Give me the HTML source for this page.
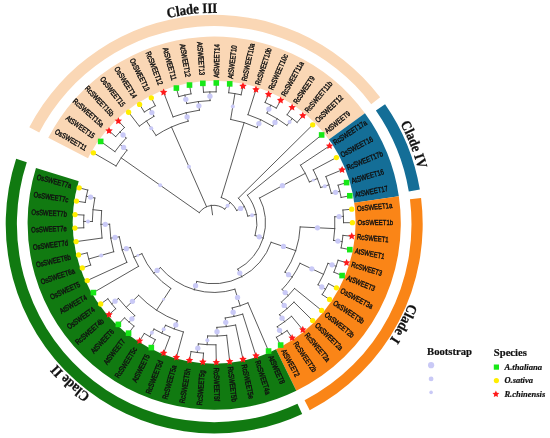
<!DOCTYPE html>
<html><head><meta charset="utf-8"><title>Phylogenetic tree</title>
<style>html,body{margin:0;padding:0;background:#fff}svg{display:block}</style></head>
<body>
<svg width="550" height="438" viewBox="0 0 550 438">
<rect width="550" height="438" fill="#fff"/>
<path d="M48.27 137.84A186.6 186.6 0 0 1 364.95 113.23L294.99 164.26A100 100 0 0 0 125.28 177.46Z" fill="#fad7b5"/>
<path d="M364.95 113.23A186.6 186.6 0 0 1 398.83 196.16L313.14 208.71A100 100 0 0 0 294.99 164.26Z" fill="#146e97"/>
<path d="M398.83 196.16A186.6 186.6 0 0 1 296.33 390.76L258.21 312.99A100 100 0 0 0 313.14 208.71Z" fill="#fa8517"/>
<path d="M296.33 390.76A186.6 186.6 0 0 1 35.97 167.95L118.68 193.59A100 100 0 0 0 258.21 312.99Z" fill="#117a11"/>
<circle cx="214.15" cy="222.2" r="141.5" fill="#fff"/>
<path d="M29.3 127.37A208.5 209.33 0 0 1 380.14 97.36L371.23 104.17A197.3 198.09 0 0 0 39.23 132.56Z" fill="#fad7b5"/>
<path d="M385.07 104.15A208.5 209.33 0 0 1 419.85 189.61L408.8 191.46A197.3 198.09 0 0 0 375.9 110.59Z" fill="#146e97"/>
<path d="M421.06 197.92A208.5 209.33 0 0 1 309.7 410.18L304.57 400.19A197.3 198.09 0 0 0 409.95 199.33Z" fill="#fa8517"/>
<path d="M302.19 413.88A208.5 209.33 0 0 1 16.16 158.64L26.79 162.16A197.3 198.09 0 0 0 297.46 403.69Z" fill="#117a11"/>
<path d="M115.69 136.66A129.95 130.86 0 0 1 124.42 127.52M115.69 136.66L109.17 130.93M124.42 127.52L118.49 121.18M114.92 151.67A121.3 122.15 0 0 1 126.18 138.02M114.92 151.67L100.84 141.54M126.18 138.02L119.95 131.98M116.04 165.98A112.65 113.44 0 0 1 126.96 150.21M116.04 165.98L93.57 152.91M126.96 150.21L120.3 144.64M144.31 111.99A129.95 130.86 0 0 1 155.28 105.76M144.31 111.99L139.7 104.63M155.28 105.76L151.4 97.98M139.29 126.15A121.3 122.15 0 0 1 153.97 116.33M139.29 126.15L128.69 112.38M153.97 116.33L149.72 108.74M178.75 96.63A129.95 130.86 0 0 1 191.03 93.83M178.75 96.63L176.43 88.24M191.03 93.83L189.53 85.25M203.53 92.23A129.95 130.86 0 0 1 216.12 91.86M203.53 92.23L202.86 83.55M216.12 91.86L216.29 83.16M186.77 103.58A121.3 122.15 0 0 1 210.07 100.6M186.77 103.58L184.86 95.08M210.07 100.6L209.82 91.9M173.03 116.88A112.65 113.44 0 0 1 199.44 110.16M173.03 116.88L163.68 92.5M199.44 110.16L198.35 101.52M156.03 135.48A104 104.73 0 0 1 188.15 121.16M156.03 135.48L146.45 120.97M188.15 121.16L186.03 112.71M228.69 92.73A129.95 130.86 0 0 1 241.11 94.81M228.69 92.73L229.69 84.07M241.11 94.81L242.94 86.29M265.07 102.54A129.95 130.86 0 0 1 276.38 108.12M265.07 102.54L268.5 94.54M276.38 108.12L280.56 100.5M287.1 114.78A129.95 130.86 0 0 1 297.13 122.46M287.1 114.78L291.99 107.6M297.13 122.46L302.69 115.78M266.99 113.02A121.3 122.15 0 0 1 286.98 125.43M266.99 113.02L270.79 105.2M286.98 125.43L292.21 118.5M247.99 114.68A112.65 113.44 0 0 1 272.74 126.15M247.99 114.68L255.92 89.79M272.74 126.15L277.28 118.74M230.67 119.39A104 104.73 0 0 1 257.09 127.57M230.67 119.39L234.92 93.61M257.09 127.57L260.71 119.66M338.09 185.17A129.95 130.86 0 0 1 341.11 197.48M338.09 185.17L346.38 182.67M341.11 197.48L349.6 195.8M325.89 176.5A121.3 122.15 0 0 1 331.35 193.38M325.89 176.5L341.91 169.91M331.35 193.38L339.75 191.29M313.27 169.83A112.65 113.44 0 0 1 320.7 187.54M313.27 169.83L336.23 157.65M320.7 187.54L328.93 184.84M300.49 165.15A104 104.73 0 0 1 309.39 181.92M300.49 165.15L329.4 146M309.39 181.92L317.36 178.53M342.94 210.03A129.95 130.86 0 0 1 343.55 222.7M342.94 210.03L351.55 209.19M343.55 222.7L352.2 222.7M342.94 235.37A129.95 130.86 0 0 1 341.11 247.92M342.94 235.37L351.55 236.21M341.11 247.92L349.6 249.6M334.76 216.78A121.3 122.15 0 0 1 333.62 240.4M334.76 216.78L343.4 216.36M333.62 240.4L342.18 241.67M338.09 260.23A129.95 130.86 0 0 1 333.9 272.19M338.09 260.23L346.38 262.73M333.9 272.19L341.91 275.49M328.57 283.69A129.95 130.86 0 0 1 322.17 294.61M328.57 283.69L336.23 287.75M322.17 294.61L329.4 299.4M327.98 263.36A121.3 122.15 0 0 1 318.06 284.8M327.98 263.36L336.14 266.26M318.06 284.8L325.5 289.23M287.1 330.62A129.95 130.86 0 0 1 276.38 337.28M287.1 330.62L291.99 337.8M276.38 337.28L280.56 344.9M291.57 316.27A121.3 122.15 0 0 1 277.28 326.66M291.57 316.27L302.69 329.62M277.28 326.66L281.82 334.08M294.02 302.13A112.65 113.44 0 0 1 279.55 314.67M294.02 302.13L312.55 320.43M279.55 314.67L284.61 321.73M294.55 288.45A104 104.73 0 0 1 281.41 302.1M294.55 288.45L321.48 310.32M281.41 302.1L287.05 308.71M300.02 263.28A95.35 96.02 0 0 1 282.08 289.52M300.02 263.28L323.54 274.32M282.08 289.52L288.29 295.58M300.2 226.93A86.7 87.31 0 0 1 285.01 272.21M300.2 226.93L334.76 228.62M285.01 272.21L292.13 277.15M203.53 353.17A129.95 130.86 0 0 1 191.03 351.57M203.53 353.17L202.86 361.85M191.03 351.57L189.53 360.15M215.95 344.83A121.3 122.15 0 0 1 198.35 343.88M215.95 344.83L216.29 362.24M198.35 343.88L197.26 352.52M226.68 335.37A112.65 113.44 0 0 1 207.6 335.98M226.68 335.37L229.69 361.33M207.6 335.98L207.13 344.68M235.62 325.05A104 104.73 0 0 1 216.88 327.38M235.62 325.05L242.94 359.11M216.88 327.38L217.15 336.08M242.71 314.13A95.35 96.02 0 0 1 225.24 318M242.71 314.13L255.92 355.61M225.24 318L226.3 326.64M247.94 302.87A86.7 87.31 0 0 1 232.21 307.97M247.94 302.87L268.5 350.86M232.21 307.97L234.07 316.48M155.28 339.64A129.95 130.86 0 0 1 144.31 333.41M155.28 339.64L151.4 347.42M144.31 333.41L139.7 340.77M169.91 336.65A121.3 122.15 0 0 1 153.97 329.07M169.91 336.65L163.68 352.9M153.97 329.07L149.72 336.66M183.39 331.98A112.65 113.44 0 0 1 165.5 325.28M183.39 331.98L176.43 357.16M165.5 325.28L161.8 333.15M133.99 326.13A129.95 130.86 0 0 1 124.42 317.88M133.99 326.13L128.69 333.02M124.42 317.88L118.49 324.22M115.69 308.74A129.95 130.86 0 0 1 107.88 298.79M115.69 308.74L109.17 314.47M107.88 298.79L100.84 303.86M134.73 315.51A121.3 122.15 0 0 1 118.45 298.46M134.73 315.51L129.11 322.12M118.45 298.46L111.67 303.86M177.32 320.85A104 104.73 0 0 1 138.65 295.3M177.32 320.85L174.3 329.01M138.65 295.3L126.18 307.38M90.65 265.06A129.95 130.86 0 0 1 87.15 252.88M90.65 265.06L82.46 267.88M87.15 252.88L78.74 254.89M83.75 227.77A129.95 130.86 0 0 1 83.87 215.09M83.75 227.77L75.1 228.11M83.87 215.09L75.23 214.58M85.21 202.48A129.95 130.86 0 0 1 87.76 190.06M85.21 202.48L76.66 201.13M87.76 190.06L79.38 187.89M92.31 221.52A121.3 122.15 0 0 1 94.81 198M92.31 221.52L83.66 221.43M94.81 198L86.33 196.24M101.99 238.05A112.65 113.44 0 0 1 101.59 210.62M101.99 238.05L76.28 241.59M101.59 210.62L92.99 209.7M113.68 251.76A104 104.73 0 0 1 109.61 224.22M113.68 251.76L88.75 259.01M109.61 224.22L100.96 224.35M126.8 262.43A95.35 96.02 0 0 1 119.29 236.85M126.8 262.43L87.42 280.46M119.29 236.85L110.73 238.13M138.52 266.35A86.7 87.31 0 0 1 130.45 247.44M138.52 266.35L93.57 292.49M130.45 247.44L122.16 249.9M170.79 288.42A78.05 78.6 0 0 1 141.88 253.7M170.79 288.42L156.56 310.27M141.88 253.7L133.93 257.13M234.89 289.22A69.4 69.89 0 0 1 160.42 267.61M234.89 289.22L240.2 305.8M160.42 267.61L153.8 273.2M271.16 242.28A60.75 61.18 0 0 1 196.78 281.48M271.16 242.28L295.74 250.64M196.78 281.48L194.38 289.85M259.55 197.97A52.1 52.46 0 0 1 237.76 269.18M259.55 197.97L305.32 173.33M237.76 269.18L241.77 276.9M247.42 195.23A43.45 43.75 0 0 1 255.12 235.58M247.42 195.23L321.48 135.08M255.12 235.58L263.39 238.15M238.44 198.16A34.8 35.04 0 0 1 247.77 216.08M238.44 198.16L312.55 124.97M247.77 216.08L256.27 214.44M221.28 197.53A26.15 26.33 0 0 1 236.76 210.47M221.28 197.53L244.15 122.59M236.76 210.47L244.42 206.43M199.24 212.63A17.5 17.62 0 0 1 224.78 209.14M199.24 212.63L121.17 157.86M206.51 206.59L171.48 126.94M224.78 209.14L230.31 202.44M211.25 205.24L212.53 214.72" fill="none" stroke="#3c3c3c" stroke-width="0.85" stroke-linecap="square"/>
<g fill="#c9c9f6">
<circle cx="123.06" cy="135" r="2.65"/>
<circle cx="123.63" cy="147.42" r="2.65"/>
<circle cx="151.85" cy="112.54" r="2.65"/>
<circle cx="185.82" cy="99.33" r="2.65"/>
<circle cx="209.95" cy="96.25" r="2.65"/>
<circle cx="198.89" cy="105.84" r="2.65"/>
<circle cx="151.24" cy="128.23" r="2"/>
<circle cx="187.09" cy="116.93" r="2.65"/>
<circle cx="268.89" cy="109.11" r="2.65"/>
<circle cx="289.59" cy="121.97" r="2"/>
<circle cx="275.01" cy="122.44" r="2.65"/>
<circle cx="232.79" cy="106.5" r="2"/>
<circle cx="258.9" cy="123.61" r="2.65"/>
<circle cx="335.55" cy="192.33" r="2.65"/>
<circle cx="324.81" cy="186.19" r="2"/>
<circle cx="313.38" cy="180.22" r="1.4"/>
<circle cx="339.08" cy="216.57" r="2.65"/>
<circle cx="337.9" cy="241.03" r="2.65"/>
<circle cx="332.06" cy="264.81" r="2.65"/>
<circle cx="321.78" cy="287.01" r="2.65"/>
<circle cx="279.55" cy="330.37" r="2.65"/>
<circle cx="282.08" cy="318.2" r="2.65"/>
<circle cx="284.23" cy="305.41" r="2.65"/>
<circle cx="311.78" cy="268.8" r="2.65"/>
<circle cx="285.18" cy="292.55" r="2.65"/>
<circle cx="317.48" cy="227.78" r="2.65"/>
<circle cx="288.57" cy="274.68" r="2.65"/>
<circle cx="197.81" cy="348.2" r="2.65"/>
<circle cx="207.36" cy="340.33" r="2"/>
<circle cx="217.01" cy="331.73" r="2.65"/>
<circle cx="225.77" cy="322.32" r="2.65"/>
<circle cx="233.14" cy="312.23" r="2.65"/>
<circle cx="151.85" cy="332.86" r="2"/>
<circle cx="163.65" cy="329.21" r="2"/>
<circle cx="131.92" cy="318.81" r="2.65"/>
<circle cx="115.06" cy="301.16" r="2.65"/>
<circle cx="175.81" cy="324.93" r="2.65"/>
<circle cx="132.41" cy="301.34" r="2.65"/>
<circle cx="87.98" cy="221.47" r="2"/>
<circle cx="90.57" cy="197.12" r="2.65"/>
<circle cx="101.22" cy="255.39" r="2"/>
<circle cx="105.29" cy="224.29" r="2.65"/>
<circle cx="115.01" cy="237.49" r="2.65"/>
<circle cx="126.3" cy="248.67" r="2.65"/>
<circle cx="163.67" cy="299.34" r="1.4"/>
<circle cx="137.9" cy="255.42" r="1.4"/>
<circle cx="237.54" cy="297.51" r="2.65"/>
<circle cx="157.11" cy="270.4" r="2.65"/>
<circle cx="283.45" cy="246.46" r="2.65"/>
<circle cx="195.58" cy="285.67" r="2.65"/>
<circle cx="282.43" cy="185.65" r="2.65"/>
<circle cx="239.77" cy="273.04" r="2.65"/>
<circle cx="259.26" cy="236.86" r="2.65"/>
<circle cx="252.02" cy="215.26" r="2"/>
<circle cx="240.59" cy="208.45" r="2.65"/>
<circle cx="160.2" cy="185.24" r="2"/>
<circle cx="189" cy="166.77" r="2"/>
<circle cx="227.54" cy="205.79" r="2"/>
</g>
<circle cx="93.4" cy="152.81" r="2.65" fill="#ffee00"/>
<rect x="97.88" y="138.62" width="5.6" height="5.6" fill="#17e817"/>
<polygon points="109.02,126.9 110.12,129.28 112.73,129.59 110.8,131.38 111.32,133.95 109.02,132.67 106.73,133.95 107.24,131.38 105.31,129.59 107.92,129.28" fill="#ff1a1a"/>
<polygon points="118.35,117.13 119.45,119.52 122.06,119.83 120.13,121.61 120.64,124.19 118.35,122.91 116.06,124.19 116.57,121.61 114.64,119.83 117.25,119.52" fill="#ff1a1a"/>
<circle cx="128.57" cy="112.23" r="2.65" fill="#ffee00"/>
<circle cx="139.59" cy="104.46" r="2.65" fill="#ffee00"/>
<circle cx="151.31" cy="97.8" r="2.65" fill="#ffee00"/>
<polygon points="163.61,88.41 164.71,90.79 167.32,91.1 165.39,92.89 165.9,95.46 163.61,94.18 161.31,95.46 161.83,92.89 159.9,91.1 162.51,90.79" fill="#ff1a1a"/>
<rect x="173.58" y="85.25" width="5.6" height="5.6" fill="#17e817"/>
<rect x="186.7" y="82.25" width="5.6" height="5.6" fill="#17e817"/>
<rect x="200.04" y="80.55" width="5.6" height="5.6" fill="#17e817"/>
<rect x="213.49" y="80.15" width="5.6" height="5.6" fill="#17e817"/>
<rect x="226.91" y="81.07" width="5.6" height="5.6" fill="#17e817"/>
<polygon points="242.98,82.2 244.08,84.58 246.69,84.89 244.76,86.67 245.28,89.25 242.98,87.97 240.69,89.25 241.2,86.67 239.28,84.89 241.88,84.58" fill="#ff1a1a"/>
<polygon points="255.98,85.7 257.08,88.09 259.69,88.4 257.76,90.18 258.27,92.76 255.98,91.47 253.69,92.76 254.2,90.18 252.27,88.4 254.88,88.09" fill="#ff1a1a"/>
<polygon points="268.58,90.46 269.68,92.84 272.28,93.15 270.36,94.94 270.87,97.51 268.58,96.23 266.28,97.51 266.8,94.94 264.87,93.15 267.48,92.84" fill="#ff1a1a"/>
<polygon points="280.66,96.42 281.76,98.81 284.37,99.12 282.44,100.9 282.95,103.48 280.66,102.19 278.36,103.48 278.88,100.9 276.95,99.12 279.56,98.81" fill="#ff1a1a"/>
<polygon points="292.11,103.53 293.21,105.92 295.82,106.23 293.89,108.01 294.4,110.59 292.11,109.31 289.81,110.59 290.33,108.01 288.4,106.23 291.01,105.92" fill="#ff1a1a"/>
<polygon points="302.82,111.73 303.92,114.11 306.53,114.42 304.6,116.21 305.11,118.78 302.82,117.5 300.53,118.78 301.04,116.21 299.11,114.42 301.72,114.11" fill="#ff1a1a"/>
<circle cx="312.69" cy="124.83" r="2.65" fill="#ffee00"/>
<rect x="318.84" y="132.15" width="5.6" height="5.6" fill="#17e817"/>
<polygon points="329.57,141.99 330.67,144.38 333.27,144.69 331.35,146.47 331.86,149.05 329.57,147.77 327.27,149.05 327.79,146.47 325.86,144.69 328.47,144.38" fill="#ff1a1a"/>
<circle cx="336.4" cy="157.56" r="2.65" fill="#ffee00"/>
<polygon points="342.09,165.94 343.19,168.32 345.8,168.63 343.87,170.42 344.38,172.99 342.09,171.71 339.8,172.99 340.31,170.42 338.38,168.63 340.99,168.32" fill="#ff1a1a"/>
<rect x="343.77" y="179.81" width="5.6" height="5.6" fill="#17e817"/>
<rect x="347" y="192.96" width="5.6" height="5.6" fill="#17e817"/>
<circle cx="351.75" cy="209.17" r="2.65" fill="#ffee00"/>
<circle cx="352.4" cy="222.7" r="2.65" fill="#ffee00"/>
<polygon points="351.75,232.33 352.85,234.72 355.46,235.03 353.53,236.81 354.04,239.39 351.75,238.1 349.46,239.39 349.97,236.81 348.04,235.03 350.65,234.72" fill="#ff1a1a"/>
<rect x="347" y="246.84" width="5.6" height="5.6" fill="#17e817"/>
<polygon points="346.57,258.89 347.67,261.27 350.28,261.58 348.35,263.37 348.86,265.94 346.57,264.66 344.28,265.94 344.79,263.37 342.86,261.58 345.47,261.27" fill="#ff1a1a"/>
<rect x="339.29" y="272.76" width="5.6" height="5.6" fill="#17e817"/>
<circle cx="336.4" cy="287.84" r="2.65" fill="#ffee00"/>
<circle cx="329.57" cy="299.51" r="2.65" fill="#ffee00"/>
<circle cx="321.64" cy="310.45" r="2.65" fill="#ffee00"/>
<circle cx="312.69" cy="320.57" r="2.65" fill="#ffee00"/>
<polygon points="302.82,325.87 303.92,328.26 306.53,328.57 304.6,330.35 305.11,332.93 302.82,331.64 300.53,332.93 301.04,330.35 299.11,328.57 301.72,328.26" fill="#ff1a1a"/>
<polygon points="292.11,334.07 293.21,336.45 295.82,336.76 293.89,338.54 294.4,341.12 292.11,339.84 289.81,341.12 290.33,338.54 288.4,336.76 291.01,336.45" fill="#ff1a1a"/>
<rect x="277.86" y="342.28" width="5.6" height="5.6" fill="#17e817"/>
<rect x="265.78" y="348.24" width="5.6" height="5.6" fill="#17e817"/>
<polygon points="255.98,351.9 257.08,354.28 259.69,354.59 257.76,356.38 258.27,358.95 255.98,357.67 253.69,358.95 254.2,356.38 252.27,354.59 254.88,354.28" fill="#ff1a1a"/>
<polygon points="242.98,355.4 244.08,357.79 246.69,358.1 244.76,359.88 245.28,362.46 242.98,361.18 240.69,362.46 241.2,359.88 239.28,358.1 241.88,357.79" fill="#ff1a1a"/>
<polygon points="229.71,357.63 230.81,360.01 233.42,360.32 231.49,362.1 232.01,364.68 229.71,363.4 227.42,364.68 227.93,362.1 226,360.32 228.61,360.01" fill="#ff1a1a"/>
<polygon points="216.29,358.55 217.39,360.93 220,361.24 218.07,363.02 218.58,365.6 216.29,364.32 214,365.6 214.51,363.02 212.58,361.24 215.19,360.93" fill="#ff1a1a"/>
<polygon points="202.84,358.15 203.94,360.54 206.55,360.85 204.62,362.63 205.14,365.21 202.84,363.92 200.55,365.21 201.06,362.63 199.13,360.85 201.74,360.54" fill="#ff1a1a"/>
<polygon points="189.5,356.45 190.6,358.83 193.21,359.14 191.28,360.93 191.79,363.5 189.5,362.22 187.21,363.5 187.72,360.93 185.79,359.14 188.4,358.83" fill="#ff1a1a"/>
<polygon points="176.38,353.45 177.48,355.84 180.09,356.15 178.16,357.93 178.67,360.51 176.38,359.22 174.09,360.51 174.6,357.93 172.67,356.15 175.28,355.84" fill="#ff1a1a"/>
<polygon points="163.61,349.19 164.71,351.58 167.32,351.89 165.39,353.67 165.9,356.25 163.61,354.96 161.31,356.25 161.83,353.67 159.9,351.89 162.51,351.58" fill="#ff1a1a"/>
<rect x="148.51" y="344.8" width="5.6" height="5.6" fill="#17e817"/>
<polygon points="139.59,337.04 140.69,339.43 143.3,339.74 141.37,341.52 141.88,344.1 139.59,342.82 137.3,344.1 137.81,341.52 135.88,339.74 138.49,339.43" fill="#ff1a1a"/>
<rect x="125.77" y="330.37" width="5.6" height="5.6" fill="#17e817"/>
<rect x="115.55" y="321.57" width="5.6" height="5.6" fill="#17e817"/>
<polygon points="109.02,310.7 110.12,313.09 112.73,313.4 110.8,315.18 111.32,317.76 109.02,316.47 106.73,317.76 107.24,315.18 105.31,313.4 107.92,313.09" fill="#ff1a1a"/>
<circle cx="100.68" cy="303.98" r="2.65" fill="#ffee00"/>
<rect x="90.6" y="289.79" width="5.6" height="5.6" fill="#17e817"/>
<circle cx="87.24" cy="280.54" r="2.65" fill="#ffee00"/>
<circle cx="82.27" cy="267.95" r="2.65" fill="#ffee00"/>
<circle cx="78.54" cy="254.93" r="2.65" fill="#ffee00"/>
<circle cx="76.08" cy="241.62" r="2.65" fill="#ffee00"/>
<circle cx="74.9" cy="228.12" r="2.65" fill="#ffee00"/>
<circle cx="75.03" cy="214.57" r="2.65" fill="#ffee00"/>
<circle cx="76.47" cy="201.1" r="2.65" fill="#ffee00"/>
<circle cx="79.19" cy="187.84" r="2.65" fill="#ffee00"/>
<g font-family="'Liberation Sans', sans-serif" font-size="7.7" fill="#111" stroke="#111" stroke-width="0.4">
<text transform="translate(86.29 148.69) rotate(30)" text-anchor="end" dy="2.6" textLength="35.48" lengthAdjust="spacingAndGlyphs">OsSWEET11</text>
<text transform="translate(94.01 136.62) rotate(35.56)" text-anchor="end" dy="2.6" textLength="33.5" lengthAdjust="spacingAndGlyphs">AtSWEET15</text>
<text transform="translate(102.84 125.37) rotate(41.11)" text-anchor="end" dy="2.6" textLength="38.47" lengthAdjust="spacingAndGlyphs">RcSWEET15a</text>
<text transform="translate(112.72 115.03) rotate(46.67)" text-anchor="end" dy="2.6" textLength="38.47" lengthAdjust="spacingAndGlyphs">RcSWEET15b</text>
<text transform="translate(123.55 105.7) rotate(52.22)" text-anchor="end" dy="2.6" textLength="35.48" lengthAdjust="spacingAndGlyphs">OsSWEET15</text>
<text transform="translate(135.22 97.47) rotate(57.78)" text-anchor="end" dy="2.6" textLength="35.48" lengthAdjust="spacingAndGlyphs">OsSWEET14</text>
<text transform="translate(147.63 90.42) rotate(63.33)" text-anchor="end" dy="2.6" textLength="35.48" lengthAdjust="spacingAndGlyphs">OsSWEET13</text>
<text transform="translate(160.65 84.61) rotate(68.89)" text-anchor="end" dy="2.6" textLength="35.15" lengthAdjust="spacingAndGlyphs">RcSWEET12</text>
<text transform="translate(174.18 80.09) rotate(74.44)" text-anchor="end" dy="2.6" textLength="33.5" lengthAdjust="spacingAndGlyphs">AtSWEET11</text>
<text transform="translate(188.07 76.92) rotate(80)" text-anchor="end" dy="2.6" textLength="33.5" lengthAdjust="spacingAndGlyphs">AtSWEET12</text>
<text transform="translate(202.21 75.12) rotate(85.56)" text-anchor="end" dy="2.6" textLength="33.5" lengthAdjust="spacingAndGlyphs">AtSWEET13</text>
<text transform="translate(216.39 77.72) rotate(-88.89)" dy="2.6" textLength="33.5" lengthAdjust="spacingAndGlyphs">AtSWEET14</text>
<text transform="translate(230.32 78.67) rotate(-83.33)" dy="2.6" textLength="33.5" lengthAdjust="spacingAndGlyphs">AtSWEET10</text>
<text transform="translate(244.09 80.98) rotate(-77.78)" dy="2.6" textLength="38.47" lengthAdjust="spacingAndGlyphs">RcSWEET10a</text>
<text transform="translate(257.57 84.62) rotate(-72.22)" dy="2.6" textLength="38.47" lengthAdjust="spacingAndGlyphs">RcSWEET10b</text>
<text transform="translate(270.64 89.55) rotate(-66.67)" dy="2.6" textLength="38.13" lengthAdjust="spacingAndGlyphs">RcSWEET10c</text>
<text transform="translate(283.17 95.74) rotate(-61.11)" dy="2.6" textLength="38.47" lengthAdjust="spacingAndGlyphs">RcSWEET11a</text>
<text transform="translate(295.05 103.12) rotate(-55.56)" dy="2.6" textLength="31.83" lengthAdjust="spacingAndGlyphs">RcSWEET9</text>
<text transform="translate(306.16 111.62) rotate(-50)" dy="2.6" textLength="38.47" lengthAdjust="spacingAndGlyphs">RcSWEET11b</text>
<text transform="translate(316.41 121.16) rotate(-44.44)" dy="2.6" textLength="35.48" lengthAdjust="spacingAndGlyphs">OsSWEET12</text>
<text transform="translate(325.68 131.66) rotate(-38.89)" dy="2.6" textLength="30.18" lengthAdjust="spacingAndGlyphs">AtSWEET9</text>
<text transform="translate(333.91 143.02) rotate(-33.33)" dy="2.6" textLength="38.47" lengthAdjust="spacingAndGlyphs">RcSWEET17a</text>
<text transform="translate(341.01 155.12) rotate(-27.78)" dy="2.6" textLength="35.48" lengthAdjust="spacingAndGlyphs">OsSWEET16</text>
<text transform="translate(346.9 167.86) rotate(-22.22)" dy="2.6" textLength="38.47" lengthAdjust="spacingAndGlyphs">RcSWEET17b</text>
<text transform="translate(351.55 181.11) rotate(-16.67)" dy="2.6" textLength="33.5" lengthAdjust="spacingAndGlyphs">AtSWEET16</text>
<text transform="translate(354.9 194.76) rotate(-11.11)" dy="2.6" textLength="33.5" lengthAdjust="spacingAndGlyphs">AtSWEET17</text>
<text transform="translate(356.92 208.66) rotate(-5.56)" dy="2.6" textLength="35.48" lengthAdjust="spacingAndGlyphs">OsSWEET1a</text>
<text transform="translate(357.6 222.7) rotate(-0)" dy="2.6" textLength="35.48" lengthAdjust="spacingAndGlyphs">OsSWEET1b</text>
<text transform="translate(356.92 236.74) rotate(-354.44)" dy="2.6" textLength="31.83" lengthAdjust="spacingAndGlyphs">RcSWEET1</text>
<text transform="translate(354.9 250.64) rotate(-348.89)" dy="2.6" textLength="30.18" lengthAdjust="spacingAndGlyphs">AtSWEET1</text>
<text transform="translate(351.55 264.29) rotate(-343.33)" dy="2.6" textLength="31.83" lengthAdjust="spacingAndGlyphs">RcSWEET3</text>
<text transform="translate(346.9 277.54) rotate(-337.78)" dy="2.6" textLength="30.18" lengthAdjust="spacingAndGlyphs">AtSWEET3</text>
<text transform="translate(341.01 290.28) rotate(-332.22)" dy="2.6" textLength="35.48" lengthAdjust="spacingAndGlyphs">OsSWEET3a</text>
<text transform="translate(333.91 302.38) rotate(-326.67)" dy="2.6" textLength="35.48" lengthAdjust="spacingAndGlyphs">OsSWEET3b</text>
<text transform="translate(325.68 313.74) rotate(-321.11)" dy="2.6" textLength="35.48" lengthAdjust="spacingAndGlyphs">OsSWEET2b</text>
<text transform="translate(316.41 324.24) rotate(-315.56)" dy="2.6" textLength="35.48" lengthAdjust="spacingAndGlyphs">OsSWEET2a</text>
<text transform="translate(306.16 333.78) rotate(-310)" dy="2.6" textLength="35.15" lengthAdjust="spacingAndGlyphs">RcSWEET2a</text>
<text transform="translate(295.05 342.28) rotate(-304.44)" dy="2.6" textLength="35.15" lengthAdjust="spacingAndGlyphs">RcSWEET2b</text>
<text transform="translate(283.17 349.66) rotate(-298.89)" dy="2.6" textLength="30.18" lengthAdjust="spacingAndGlyphs">AtSWEET2</text>
<text transform="translate(270.64 355.85) rotate(-293.33)" dy="2.6" textLength="30.18" lengthAdjust="spacingAndGlyphs">AtSWEET8</text>
<text transform="translate(257.57 360.78) rotate(-287.78)" dy="2.6" textLength="35.15" lengthAdjust="spacingAndGlyphs">RcSWEET4a</text>
<text transform="translate(244.09 364.42) rotate(-282.22)" dy="2.6" textLength="35.15" lengthAdjust="spacingAndGlyphs">RcSWEET5e</text>
<text transform="translate(230.32 366.73) rotate(-276.67)" dy="2.6" textLength="35.15" lengthAdjust="spacingAndGlyphs">RcSWEET5b</text>
<text transform="translate(216.39 367.68) rotate(-271.11)" dy="2.6" textLength="33.49" lengthAdjust="spacingAndGlyphs">RcSWEET5f</text>
<text transform="translate(202.21 370.28) rotate(-85.56)" text-anchor="end" dy="2.6" textLength="35.15" lengthAdjust="spacingAndGlyphs">RcSWEET5g</text>
<text transform="translate(188.07 368.48) rotate(-80)" text-anchor="end" dy="2.6" textLength="35.15" lengthAdjust="spacingAndGlyphs">RcSWEET5h</text>
<text transform="translate(174.18 365.31) rotate(-74.44)" text-anchor="end" dy="2.6" textLength="35.15" lengthAdjust="spacingAndGlyphs">RcSWEET5a</text>
<text transform="translate(160.65 360.79) rotate(-68.89)" text-anchor="end" dy="2.6" textLength="35.15" lengthAdjust="spacingAndGlyphs">RcSWEET5d</text>
<text transform="translate(147.63 354.98) rotate(-63.33)" text-anchor="end" dy="2.6" textLength="30.18" lengthAdjust="spacingAndGlyphs">AtSWEET5</text>
<text transform="translate(135.22 347.93) rotate(-57.78)" text-anchor="end" dy="2.6" textLength="34.81" lengthAdjust="spacingAndGlyphs">RcSWEET5c</text>
<text transform="translate(123.55 339.7) rotate(-52.22)" text-anchor="end" dy="2.6" textLength="30.18" lengthAdjust="spacingAndGlyphs">AtSWEET7</text>
<text transform="translate(112.72 330.37) rotate(-46.67)" text-anchor="end" dy="2.6" textLength="30.18" lengthAdjust="spacingAndGlyphs">AtSWEET6</text>
<text transform="translate(102.84 320.03) rotate(-41.11)" text-anchor="end" dy="2.6" textLength="35.15" lengthAdjust="spacingAndGlyphs">RcSWEET4b</text>
<text transform="translate(94.01 308.78) rotate(-35.56)" text-anchor="end" dy="2.6" textLength="32.16" lengthAdjust="spacingAndGlyphs">OsSWEET4</text>
<text transform="translate(86.29 296.71) rotate(-30)" text-anchor="end" dy="2.6" textLength="30.18" lengthAdjust="spacingAndGlyphs">AtSWEET4</text>
<text transform="translate(79.78 283.96) rotate(-24.44)" text-anchor="end" dy="2.6" textLength="32.16" lengthAdjust="spacingAndGlyphs">OsSWEET5</text>
<text transform="translate(74.52 270.62) rotate(-18.89)" text-anchor="end" dy="2.6" textLength="35.48" lengthAdjust="spacingAndGlyphs">OsSWEET6a</text>
<text transform="translate(70.56 256.84) rotate(-13.33)" text-anchor="end" dy="2.6" textLength="35.48" lengthAdjust="spacingAndGlyphs">OsSWEET6b</text>
<text transform="translate(67.95 242.73) rotate(-7.78)" text-anchor="end" dy="2.6" textLength="35.48" lengthAdjust="spacingAndGlyphs">OsSWEET7d</text>
<text transform="translate(66.71 228.44) rotate(-2.22)" text-anchor="end" dy="2.6" textLength="35.48" lengthAdjust="spacingAndGlyphs">OsSWEET7e</text>
<text transform="translate(66.85 214.09) rotate(3.33)" text-anchor="end" dy="2.6" textLength="35.48" lengthAdjust="spacingAndGlyphs">OsSWEET7b</text>
<text transform="translate(68.37 199.83) rotate(8.89)" text-anchor="end" dy="2.6" textLength="35.15" lengthAdjust="spacingAndGlyphs">OsSWEET7c</text>
<text transform="translate(71.25 185.78) rotate(14.44)" text-anchor="end" dy="2.6" textLength="35.48" lengthAdjust="spacingAndGlyphs">OsSWEET7a</text>
</g>
<defs>
<path id="cp0" d="M235.99 432.47A210.4 210.4 0 0 1 192.41 13.93A210.4 210.4 0 0 1 235.99 432.47"/>
<path id="cp1" d="M17.91 300.61A211 211 0 0 1 410.49 145.79A211 211 0 0 1 17.91 300.61"/>
<path id="cp2" d="M28.21 124.4A210.6 210.6 0 0 1 400.19 322A210.6 210.6 0 0 1 28.21 124.4"/>
<path id="cp3" d="M355.67 65.84A211.6 211.6 0 0 1 72.73 380.56A211.6 211.6 0 0 1 355.67 65.84"/>
</defs>
<g font-family="'Liberation Serif', serif" font-weight="bold" font-size="14.3" fill="#111" stroke="#111" stroke-width="0.3" text-anchor="middle">
<text textLength="50.0" lengthAdjust="spacingAndGlyphs"><textPath href="#cp0" startOffset="50%" textLength="50.0" lengthAdjust="spacingAndGlyphs">Clade III</textPath></text>
<text textLength="49.0" lengthAdjust="spacingAndGlyphs"><textPath href="#cp1" startOffset="50%" textLength="49.0" lengthAdjust="spacingAndGlyphs">Clade IV</textPath></text>
<text textLength="41.5" lengthAdjust="spacingAndGlyphs"><textPath href="#cp2" startOffset="50%" textLength="41.5" lengthAdjust="spacingAndGlyphs">Clade I</textPath></text>
<text textLength="46.0" lengthAdjust="spacingAndGlyphs"><textPath href="#cp3" startOffset="50%" textLength="46.0" lengthAdjust="spacingAndGlyphs">Clade II</textPath></text>
</g>
<g font-family="'Liberation Serif', serif" font-weight="bold" fill="#111" stroke="#111" stroke-width="0.2">
<text x="427.1" y="354.6" font-size="10.6" textLength="44.9" lengthAdjust="spacingAndGlyphs">Bootstrap</text>
<text x="493.8" y="355.7" font-size="10.6" textLength="33.1" lengthAdjust="spacingAndGlyphs">Species</text>
<g font-style="italic" font-size="8.6">
<text x="504.4" y="369.5" textLength="37.8" lengthAdjust="spacingAndGlyphs">A.thaliana</text>
<text x="504.4" y="383" textLength="28.6" lengthAdjust="spacingAndGlyphs">O.sativa</text>
<text x="504.4" y="396.5" textLength="40.9" lengthAdjust="spacingAndGlyphs">R.chinensis</text>
</g></g>
<g fill="#c9c9f6"><circle cx="431.1" cy="365.2" r="3.1"/><circle cx="431.1" cy="378.9" r="2.4"/><circle cx="431.1" cy="392.4" r="1.8"/></g>
<rect x="493.8" y="364.5" width="5.2" height="5.2" fill="#17e817"/>
<circle cx="496.4" cy="380.6" r="2.6" fill="#ffee00"/>
<polygon points="495.9,390.6 496.92,392.8 499.32,393.09 497.54,394.73 498.02,397.11 495.9,395.93 493.78,397.11 494.26,394.73 492.48,393.09 494.88,392.8" fill="#ff1a1a"/>
</svg>
</body></html>
